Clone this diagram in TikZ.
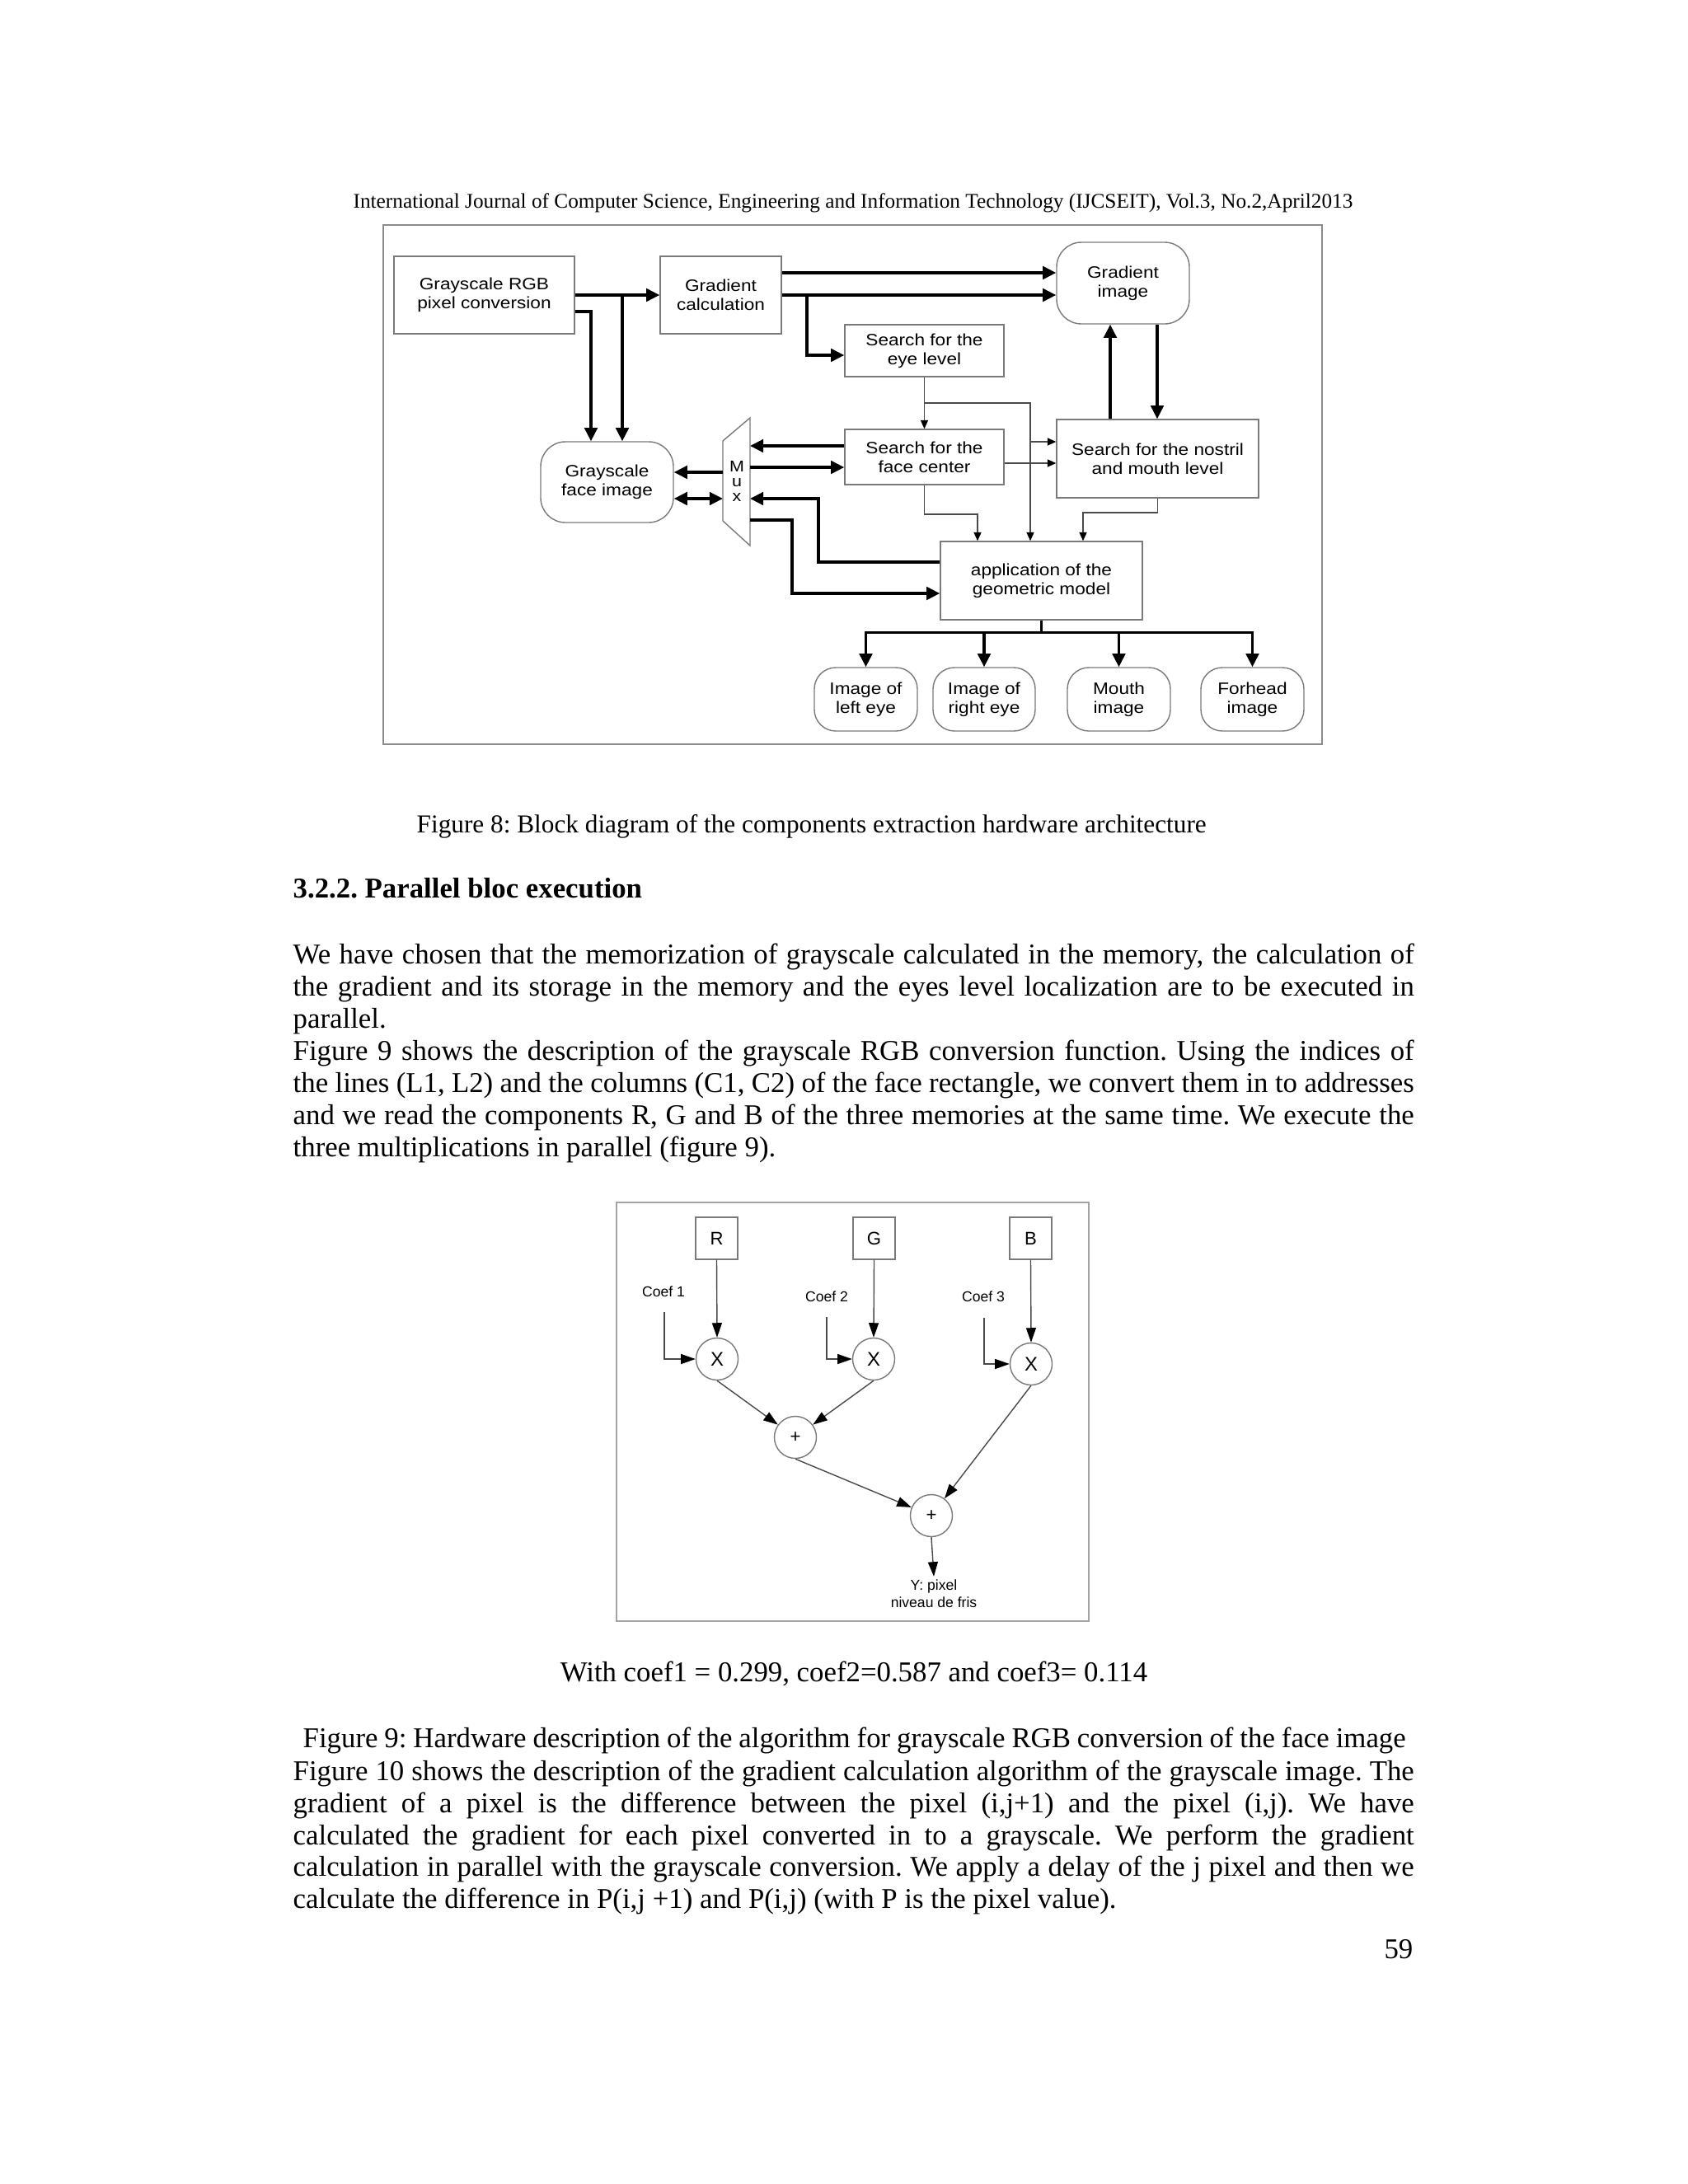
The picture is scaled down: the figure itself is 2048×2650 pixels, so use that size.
\documentclass[tikz,border=0pt]{standalone}
\usepackage{fontspec}
\setmainfont{Liberation Serif}
\newfontfamily\figA[FakeStretch=1.13]{Liberation Sans}
\newfontfamily\figB{Liberation Sans}
\usetikzlibrary{arrows.meta}
\definecolor{boxgray}{HTML}{7A7A7A}
\definecolor{framegray}{HTML}{8C8C8C}
\definecolor{linegray}{HTML}{4A4A4A}
\newcommand\bodyfont{\fontsize{9.9pt}{11pt}\selectfont}
\newcommand\jline[1]{\makebox[136mm][s]{#1}}
\frenchspacing
\tikzset{
  txt/.style={anchor=base west, inner sep=0pt, font=\bodyfont},
  bx/.style={draw=boxgray, line width=0.4pt, inner sep=0pt, align=center,
    font=\figA\fontsize{5.7pt}{6.5pt}\selectfont},
  rbx/.style={bx, rounded corners=3mm},
  rbxs/.style={bx, rounded corners=2.6mm},
  thkl/.style={line width=1pt},
  thk/.style={line width=1pt, -{Triangle[length=4.6pt,width=4.4pt]}},
  dbl/.style={line width=1pt, {Triangle[length=4.6pt,width=4.4pt]}-{Triangle[length=4.6pt,width=4.4pt]}},
  thn/.style={draw=linegray, line width=0.37pt, -{Triangle[length=3pt,width=2.6pt,color=black]}},
  sq9/.style={draw=boxgray, line width=0.4pt, inner sep=0pt, minimum size=5.1mm, font=\figB\fontsize{6.3pt}{7pt}\selectfont},
  circ9/.style={circle, draw=boxgray, line width=0.4pt, inner sep=0pt, minimum size=5.1mm},
  lab9/.style={inner sep=1pt, align=center, font=\figB\fontsize{5pt}{6pt}\selectfont},
  arr9/.style={draw=linegray, line width=0.4pt, -{Triangle[length=5pt,width=3.4pt,color=black]}},
}
\begin{document}
\begin{tikzpicture}[x=0.1mm,y=-0.1mm]
\useasboundingbox (0,0) rectangle (2048,2650);
\fill[white] (0,0) rectangle (2048,2650);

% header
\node[anchor=base, inner sep=0pt, font=\fontsize{7.2pt}{9pt}\selectfont] (hdr) at (1035,252)
 {International Journal of Computer Science, Engineering and Information Technology (IJCSEIT), Vol.3, No.2,April2013};

% ---------------- Figure 8 ----------------
\draw[framegray, line width=0.45pt] (465,273) rectangle (1604,903);

\node[bx, minimum width=21.9mm, minimum height=9.4mm] (grgb) at (587.5,358) {Grayscale RGB\\pixel conversion};
\node[bx, minimum width=14.7mm, minimum height=9.4mm] (gc) at (874.5,358) {Gradient\\calculation};
\node[rbx, minimum width=16.1mm, minimum height=9.9mm] (gi) at (1362.5,343.5) {Gradient\\image};
\node[bx, minimum width=19.3mm, minimum height=6.3mm] (eye) at (1121.5,425.5) {Search for the\\eye level};
\node[bx, minimum width=19.3mm, minimum height=6.7mm] (fc) at (1121.5,554.5) {Search for the\\face center};
\node[bx, minimum width=24.5mm, minimum height=9.5mm] (nm) at (1404.5,556.5) {Search for the nostril\\and mouth level};
\node[rbx, minimum width=16.1mm, minimum height=9.8mm] (gface) at (736.5,585) {Grayscale\\face image};
\node[bx, minimum width=24.5mm, minimum height=9.5mm] (geom) at (1263.5,704.5) {application of the\\geometric model};
\node[rbxs, minimum width=12.5mm, minimum height=7.7mm] (le) at (1050.5,848.5) {Image of\\left eye};
\node[rbxs, minimum width=12.4mm, minimum height=7.7mm] (re) at (1194,848.5) {Image of\\right eye};
\node[rbxs, minimum width=12.5mm, minimum height=7.7mm] (mo) at (1357.5,848.5) {Mouth\\image};
\node[rbxs, minimum width=12.5mm, minimum height=7.7mm] (fo) at (1519.5,848.5) {Forhead\\image};

% mux
\draw[boxgray, line width=0.4pt] (877,535) -- (910,507) -- (910,662) -- (877,632) -- cycle;
\node[inner sep=0pt, align=center, font=\figA\fontsize{5.4pt}{5.2pt}\selectfont] (mux) at (894,584) {M\\u\\x};
\coordinate (mA) at (910,541);
\coordinate (mB) at (910,567);
\coordinate (mC) at (877,573);
\coordinate (mD) at (877,605);
\coordinate (mE) at (910,605);
\coordinate (mF) at (910,631);

% thick connectors
\coordinate (a1) at (717,378);
\coordinate (a2) at (755,358);
\draw[thk] (grgb.east) -- (gc.west);
\draw[thk] (grgb.east |- a1) -| (gface.north -| a1);
\draw[thk] (a2) -- (gface.north -| a2);

\coordinate (yb1) at (1000,331);
\draw[thk] (gc.east |- yb1) -- (gi.west |- yb1);
\draw[thk] (gc.east) -- (gi.west |- gc.east);
\coordinate (b2) at (979,358);
\coordinate (b3) at (1000,431);
\draw[thk] (b2) |- (eye.west |- b3);

\coordinate (c1x) at (1347,450);
\coordinate (c2x) at (1404,450);
\draw[thk] (nm.north -| c1x) -- (gi.south -| c1x);
\draw[thk] (gi.south -| c2x) -- (nm.north -| c2x);

\draw[thk] (fc.west |- mA) -- (mA);
\draw[thk] (mB) -- (fc.west |- mB);
\draw[thk] (mC) -- (gface.east |- mC);
\draw[dbl] (gface.east |- mD) -- (mD);
\coordinate (d1) at (993,682);
\coordinate (d2) at (961,720);
\draw[thk] (geom.west |- d1) -| (d1 |- mE) -- (mE);
\draw[thk] (mF) -| (d2) -- (geom.west |- d2);

% thin connectors
\coordinate (e1) at (1122,489);
\coordinate (e2) at (1250,489);
\coordinate (e3) at (1250,536);
\coordinate (e4) at (1250,562);
\coordinate (e5) at (1186,624);
\coordinate (e6) at (1314,622);
\draw[thn] (eye.south) -- (fc.north);
\draw[thn] (e1) -- (e2) -- (e2 |- geom.north);
\draw[thn] (e3) -- (nm.west |- e3);
\draw[thn] (fc.east |- e4) -- (nm.west |- e4);
\draw[thn] (fc.south) |- (e5) -- (e5 |- geom.north);
\draw[thn] (nm.south) |- (e6) -- (e6 |- geom.north);

% outputs
\draw[thkl] (geom.south) -- ++(0,15) coordinate (sp);
\foreach \n in {le,re,mo,fo} \draw[thk] (sp) -| (\n.north);

% caption 8
\node[anchor=base west, inner sep=0pt, font=\fontsize{8.9pt}{10pt}\selectfont] (cap8) at (505,1010)
 {Figure 8: Block diagram of the components extraction hardware architecture};

\node[txt, font=\bodyfont\bfseries] (sec) at (355,1089) {3.2.2. Parallel bloc execution};

\node[txt] (p1a) at (355,1169) {\jline{We have chosen that the memorization of grayscale calculated in the memory, the calculation of}};
\node[txt] (p1b) at (355,1208) {\jline{the gradient and its storage in the memory and the eyes level localization are to be executed in}};
\node[txt] (p1c) at (355,1247) {parallel.};
\node[txt] (p1d) at (355,1286) {\jline{Figure 9 shows the description of the grayscale RGB conversion function. Using the indices of}};
\node[txt] (p1e) at (355,1325) {\jline{the lines (L1, L2) and the columns (C1, C2) of the face rectangle, we convert them in to addresses}};
\node[txt] (p1f) at (355,1364) {\jline{and we read the components R, G and B of the three memories at the same time. We execute the}};
\node[txt] (p1g) at (355,1403) {three multiplications in parallel (figure 9).};

% ---------------- Figure 9 ----------------
\draw[framegray!80, line width=0.6pt] (748,1459) rectangle (1321,1967);
\node[sq9] (R) at (869.5,1502.5) {R};
\node[sq9] (G) at (1060.5,1502.5) {G};
\node[sq9] (B) at (1250.5,1502.5) {B};
\node[circ9, font=\figB\fontsize{6.8pt}{7pt}\selectfont] (x1) at (870,1649) {X};
\node[circ9, font=\figB\fontsize{6.8pt}{7pt}\selectfont] (x2) at (1060,1649) {X};
\node[circ9, font=\figB\fontsize{6.8pt}{7pt}\selectfont] (x3) at (1251,1655) {X};
\node[circ9, font=\figB\fontsize{6.3pt}{7pt}\selectfont] (p1) at (965,1744) {+};
\node[circ9, font=\figB\fontsize{6.3pt}{7pt}\selectfont] (p2) at (1130,1839) {+};
\node[lab9] (k1) at (805,1567) {Coef 1};
\node[lab9] (k2) at (1003,1573) {Coef 2};
\node[lab9] (k3) at (1193,1573) {Coef 3};
\node[lab9] (yout) at (1133,1934) {Y: pixel\\niveau de fris};
\coordinate (k1s) at (806,1592);
\coordinate (k2s) at (1003,1598);
\coordinate (k3s) at (1194,1599);

\draw[arr9] (R.south) -- (x1.north);
\draw[arr9] (G.south) -- (x2.north);
\draw[arr9] (B.south) -- (x3.north);
\draw[arr9] (k1s) |- (x1.west);
\draw[arr9] (k2s) |- (x2.west);
\draw[arr9] (k3s) |- (x3.west);
\draw[arr9] (x1.south) -- (p1);
\draw[arr9] (x2.south) -- (p1);
\draw[arr9] (p1.south) -- (p2);
\draw[arr9] (x3.south) -- (p2);
\draw[arr9] (p2.south) -- (yout.north);

\node[anchor=base, inner sep=0pt, font=\bodyfont] (coefs) at (1036,2040) {With coef1 = 0.299, coef2=0.587 and coef3= 0.114};

\node[txt] (cap9) at (367,2120) {\makebox[133.8mm][s]{Figure 9: Hardware description of the algorithm for grayscale RGB conversion of the face image}};
\node[txt] (p2a) at (355,2160) {\jline{Figure 10 shows the description of the gradient calculation algorithm of the grayscale image. The}};
\node[txt] (p2b) at (355,2199) {\jline{gradient of a pixel is the difference between the pixel (i,j+1) and the pixel (i,j). We have}};
\node[txt] (p2c) at (355,2238) {\jline{calculated the gradient for each pixel converted in to a grayscale. We perform the gradient}};
\node[txt] (p2d) at (355,2276) {\jline{calculation in parallel with the grayscale conversion. We apply a delay of the j pixel and then we}};
\node[txt] (p2e) at (355,2315) {calculate the difference in P(i,j +1) and P(i,j) (with P is the pixel value).};

\node[anchor=base east, inner sep=0pt, font=\bodyfont] (pg) at (1715,2376) {59};
\end{tikzpicture}
\end{document}
